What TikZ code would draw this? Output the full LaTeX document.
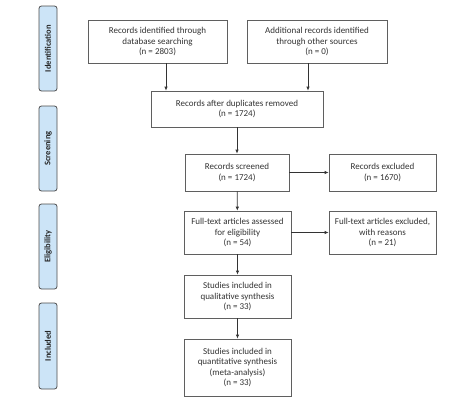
\documentclass[tikz,border=0pt]{standalone}
\usepackage{fontspec}
\setmainfont{Carlito}
\usetikzlibrary{arrows.meta}
\definecolor{phasefill}{RGB}{204,228,247}
\definecolor{boxline}{RGB}{95,95,95}
\begin{document}
\begin{tikzpicture}[x=1pt,y=-1pt,
  box/.style={draw=boxline,line width=0.7pt,fill=white,inner sep=0pt,align=center,font=\fontsize{9}{10.4}\selectfont,text=black!80},
  phase/.style={draw=black!70,line width=0.8pt,fill=phasefill,rounded corners=2.5pt,inner sep=0pt,rotate=90,font=\bfseries\fontsize{8.5}{10}\selectfont,text=black!85},
  conn/.style={draw=black!80,line width=0.7pt,-{Latex[length=4pt,width=3.5pt]}}]
\useasboundingbox (0,0) rectangle (474,405);
% phase labels
\node[phase,minimum width=85pt,minimum height=18pt] (pid) at (48,48.5) {Identification};
\node[phase,minimum width=85pt,minimum height=18pt] (psc) at (48,148.5) {Screening};
\node[phase,minimum width=85pt,minimum height=18pt] (pel) at (48,246.5) {Eligibility};
\node[phase,minimum width=86pt,minimum height=18pt] (pin) at (48,346) {Included};
% boxes
\node[box,minimum width=139pt,minimum height=43pt] (b1) at (157.5,41.5) {Records identified through\\database searching\\(n = 2803)};
\node[box,minimum width=140pt,minimum height=43pt] (b2) at (317,41.5) {Additional records identified\\through other sources\\(n = 0)};
\node[box,minimum width=172pt,minimum height=36pt] (b3) at (237,109) {Records after duplicates removed\\(n = 1724)};
\node[box,minimum width=104pt,minimum height=37pt] (b4) at (237,172.5) {Records screened\\(n = 1724)};
\node[box,minimum width=107pt,minimum height=37pt] (b5) at (382.5,172.5) {Records excluded\\(n = 1670)};
\node[box,minimum width=107pt,minimum height=43pt] (b6) at (237.5,232.5) {Full-text articles assessed\\for eligibility\\(n = 54)};
\node[box,minimum width=107pt,minimum height=43pt] (b7) at (382.5,232.5) {Full-text articles excluded,\\with reasons\\(n = 21)};
\node[box,minimum width=107pt,minimum height=43pt] (b8) at (237.5,296.5) {Studies included in\\qualitative synthesis\\(n = 33)};
\node[box,minimum width=107pt,minimum height=57pt] (b9) at (237.5,367.5) {Studies included in\\quantitative synthesis\\(meta-analysis)\\(n = 33)};
% connectors
\draw[conn] (b1.south -| 166,0) -- (b3.north -| 166,0);
\draw[conn] (b2.south -| 308,0) -- (b3.north -| 308,0);
\draw[conn] (b3) -- (b4);
\draw[conn] (b4) -- (b5);
\draw[conn] (b4) -- (b6);
\draw[conn] (b6) -- (b7);
\draw[conn] (b6) -- (b8);
\draw[conn] (b8) -- (b9);
\end{tikzpicture}
\end{document}
